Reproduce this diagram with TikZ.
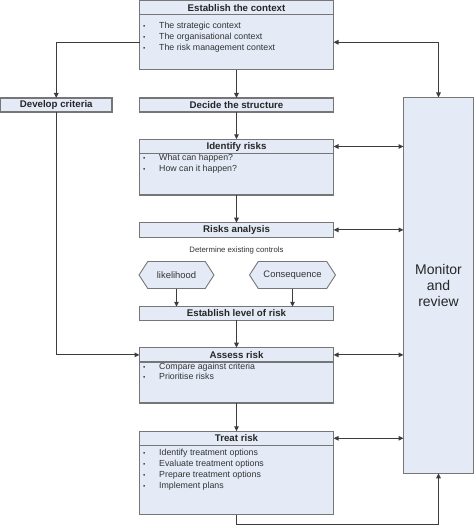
\documentclass[tikz,border=0pt]{standalone}
\usepackage{fontspec}
\setmainfont{Liberation Sans}
\usetikzlibrary{positioning,arrows.meta,shapes.symbols}
\definecolor{boxfill}{HTML}{E4EBF7}
\definecolor{boxline}{HTML}{767676}
\definecolor{arrline}{HTML}{3C3C3C}
\tikzset{
 >={Triangle[length=5pt,width=4.5pt]},
 hdr/.style={draw=boxline,fill=boxfill,line width=1.1pt,outer sep=0pt,inner sep=0pt,minimum width=194pt,minimum height=14pt,font=\fontsize{9.7}{11}\selectfont\bfseries,text=black!85},
 body/.style={draw=boxline,fill=boxfill,line width=1.1pt,outer sep=0pt,inner sep=0pt,minimum width=194pt},
 item/.style={anchor=base west,inner sep=0pt,font=\fontsize{8.8}{10}\selectfont,text=black!80},
 hexa/.style={signal,signal to=west and east,signal pointer angle=114,draw=boxline,fill=boxfill,line width=0.9pt,outer sep=0pt,inner sep=0pt,minimum height=27pt,font=\fontsize{9.4}{10}\selectfont,text=black!80},
 conn/.style={draw=arrline,line width=1.1pt,->},
 twoway/.style={draw=arrline,line width=1.1pt,<->},
}
\begin{document}
\begin{tikzpicture}[x=1pt,y=-1pt]
\useasboundingbox (0,0) rectangle (474,526);
% boxes of the main column
\node[hdr] (ctxh) at (236.5,7.6) {Establish the context};
\node[body,minimum height=55.3pt,below=0pt of ctxh] (ctxb) {};
\node[hdr,minimum width=111.5pt] (crit) at (56.25,105) {Develop criteria};
\node[hdr] (struct) at (236.5,105) {Decide the structure};
\node[hdr,minimum height=14.4pt] (idh) at (236.5,146.5) {Identify risks};
\node[body,minimum height=41.3pt,below=0pt of idh] (idb) {};
\node[hdr,minimum height=14.3pt] (ana) at (236.5,229.9) {Risks analysis};
\node[inner sep=0pt,font=\fontsize{7.8}{9}\selectfont,text=black!80] (ctrl) at (236.5,250) {Determine existing controls};
\node[hexa,minimum width=75pt] (lik) at (176.5,275) {likelihood};
\node[hexa,minimum width=86pt] (cons) at (292.5,275) {Consequence};
\node[hdr,minimum height=13.3pt] (level) at (236.5,313.4) {Establish level of risk};
\node[hdr,minimum height=14.3pt] (assh) at (236.5,354.85) {Assess risk};
\node[body,minimum height=41pt,below=0pt of assh] (assb) {};
\node[hdr] (treh) at (236.5,438.3) {Treat risk};
\node[body,minimum height=69.4pt,below=0pt of treh] (treb) {};
\node[body,minimum width=70pt,minimum height=375.8pt,font=\fontsize{14}{16.2}\selectfont,align=center,text=black!85] (mon) at (438.5,285.4) {Monitor\\and\\review};
% bullet lists
\foreach \t [count=\i] in {The strategic context,The organisational context,The risk management context}
  \node[item] (ctx\i) at (143,{28.7+10.8*(\i-1)}) {\makebox[16pt][l]{\fontsize{6.5}{7}\selectfont\textbullet}\t};
\foreach \t [count=\i] in {What can happen?,How can it happen?}
  \node[item] (id\i) at (143,{160.3+11.2*(\i-1)}) {\makebox[16pt][l]{\fontsize{6.5}{7}\selectfont\textbullet}\t};
\foreach \t [count=\i] in {Compare against criteria,Prioritise risks}
  \node[item] (ass\i) at (143,{369+10.7*(\i-1)}) {\makebox[16pt][l]{\fontsize{6.5}{7}\selectfont\textbullet}\t};
\foreach \t [count=\i] in {Identify treatment options,Evaluate treatment options,Prepare treatment options,Implement plans}
  \node[item] (tre\i) at (143,{455.7+10.9*(\i-1)}) {\makebox[16pt][l]{\fontsize{6.5}{7}\selectfont\textbullet}\t};
% connectors
\draw[conn] (ctxb.west) -| (crit.north);
\draw[conn] (crit.south) |- (assh.west);
\draw[twoway] (ctxb.east) -| (mon.north);
\foreach \n in {idh,ana,assh,treh}
  \draw[twoway] (\n.east) -- (\n.east -| mon.west);
\draw[conn] (ctxb.south) -- (struct.north);
\draw[conn] (struct.south) -- (idh.north);
\draw[conn] (idb.south) -- (ana.north);
\draw[conn] (lik.south) -- (lik.south |- level.north);
\draw[conn] (cons.south) -- (cons.south |- level.north);
\draw[conn] (level.south) -- (assh.north);
\draw[conn] (assb.south) -- (treh.north);
\coordinate (back) at (236.5,524.5);
\draw[conn] (treb.south) -- (back) -| (mon.south);
\end{tikzpicture}
\end{document}
